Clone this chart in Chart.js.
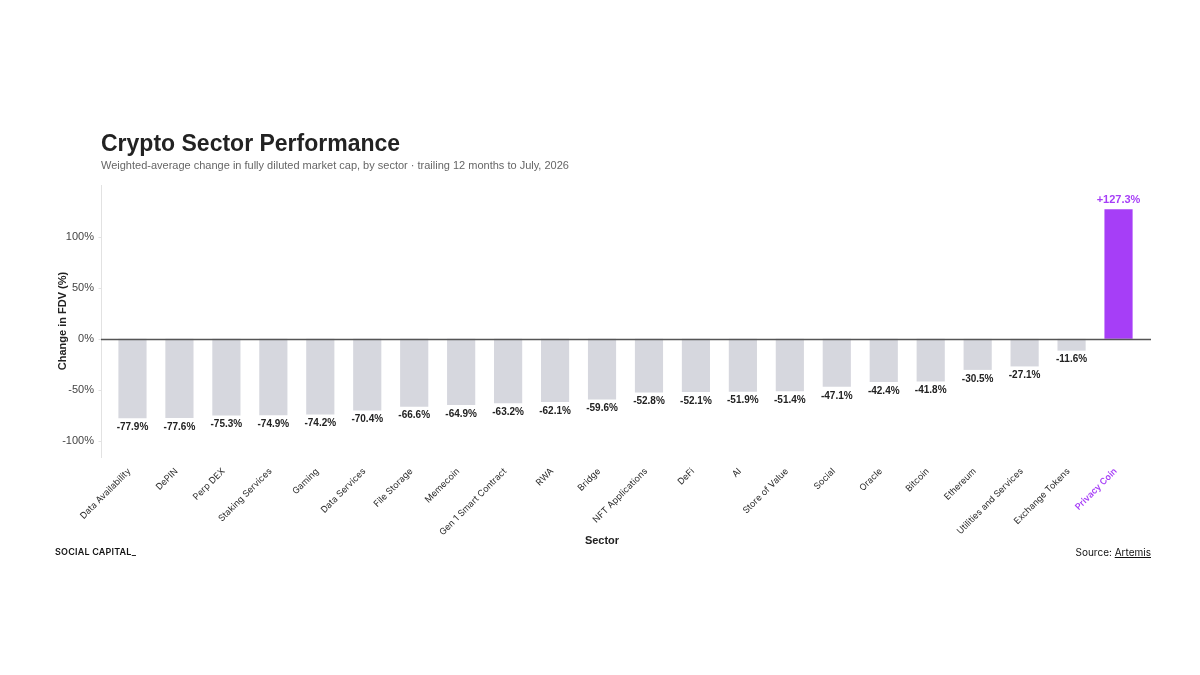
<!DOCTYPE html>
<html>
<head>
<meta charset="utf-8">
<script src="https://cdn.jsdelivr.net/npm/chart.js@4.4.1/dist/chart.umd.min.js"></script>
<style>
  html, body { margin: 0; padding: 0; background: #ffffff; }
  #wrap { position: relative; width: 1200px; height: 675px; overflow: hidden; }
  #chart { position: absolute; left: 0; top: 0; }
  .title { position: absolute; left: 101px; top: 132px; font: bold 23px 'Liberation Sans', Arial, sans-serif; line-height: 23px; color: #222; }
  .subtitle { position: absolute; left: 101px; top: 159px; font: 11px 'Liberation Sans', Arial, sans-serif; line-height: 13px; color: #666; }
  .xtitle { position: absolute; left: 552px; width: 100px; top: 534px; text-align: center; font: bold 11px 'Liberation Sans', Arial, sans-serif; line-height: 13px; color: #222; }
  .brand { position: absolute; left: 55px; top: 546px; font: 600 9px Inter, sans-serif; letter-spacing: 0.2px; color: #111; }
  .source { position: absolute; right: 49px; top: 546px; font: 10px Inter, sans-serif; color: #111; }
  .source span { text-decoration: underline; }
</style>
</head>
<body>
<div id="wrap">
  <canvas id="chart" width="1200" height="675"></canvas>
  <div class="title">Crypto Sector Performance</div>
  <div class="subtitle">Weighted-average change in fully diluted market cap, by sector · trailing 12 months to July, 2026</div>
  <div class="xtitle">Sector</div>
  <div class="brand">SOCIAL CAPITAL_</div>
  <div class="source">Source: <span>Artemis</span></div>
</div>
<script>
// ------------------------------------------------------------
// Data
// ------------------------------------------------------------
var sectors = [
  'Data Availability', 'DePIN', 'Perp DEX', 'Staking Services', 'Gaming',
  'Data Services', 'File Storage', 'Memecoin', 'Gen 1 Smart Contract', 'RWA',
  'Bridge', 'NFT Applications', 'DeFi', 'AI', 'Store of Value', 'Social',
  'Oracle', 'Bitcoin', 'Ethereum', 'Utilities and Services', 'Exchange Tokens',
  'Privacy Coin'
];
var changes = [
  -77.9, -77.6, -75.3, -74.9, -74.2, -70.4, -66.6, -64.9, -63.2, -62.1,
  -59.6, -52.8, -52.1, -51.9, -51.4, -47.1, -42.4, -41.8, -30.5, -27.1,
  -11.6, 127.3
];
var yTicks = [-100, -50, 0, 50, 100];

var COLORS = {
  text: '#222222',
  tick: '#444444',
  grayBar: '#d6d7de',
  highlight: '#a63ef7',
  zeroLine: '#555555',
  axisLine: '#e2e2e2'
};

var lastIdx = sectors.length - 1;

// Axis lines and the bar value labels
var decorPlugin = {
  id: 'decor',
  afterDatasetsDraw: function(chart) {
    var ctx = chart.ctx;
    var area = chart.chartArea;
    var y = chart.scales.y;
    var zeroY = Math.round(y.getPixelForValue(0)) + 0.5;
    var axisX = area.left - 8 + 0.5;

    ctx.save();
    // y axis line + small tick marks
    ctx.strokeStyle = COLORS.axisLine;
    ctx.lineWidth = 1;
    ctx.beginPath();
    ctx.moveTo(axisX, area.top);
    ctx.lineTo(axisX, area.bottom + 1);
    yTicks.forEach(function(v) {
      var ty = Math.round(y.getPixelForValue(v)) + 0.5;
      ctx.moveTo(axisX - 3, ty);
      ctx.lineTo(axisX, ty);
    });
    ctx.stroke();

    // zero line
    ctx.strokeStyle = COLORS.zeroLine;
    ctx.lineWidth = 1.5;
    ctx.beginPath();
    ctx.moveTo(area.left - 8, zeroY);
    ctx.lineTo(area.right + 9, zeroY);
    ctx.stroke();

    // value labels
    var meta = chart.getDatasetMeta(0);
    ctx.textAlign = 'center';
    meta.data.forEach(function(bar, i) {
      var v = changes[i];
      if (v >= 0) {
        ctx.fillStyle = COLORS.highlight;
        ctx.font = "bold 11px 'Liberation Sans', Arial, sans-serif";
        ctx.textBaseline = 'bottom';
        ctx.fillText('+' + v.toFixed(1) + '%', bar.x, bar.y - 4);
      } else {
        ctx.fillStyle = COLORS.text;
        ctx.font = "bold 10px 'Liberation Sans', Arial, sans-serif";
        ctx.textBaseline = 'top';
        ctx.fillText(v.toFixed(1) + '%', bar.x, bar.y + 4);
      }
    });
    ctx.restore();
  }
};

var ctx = document.getElementById('chart').getContext('2d');
new Chart(ctx, {
  type: 'bar',
  data: {
    labels: sectors,
    datasets: [{
      data: changes,
      backgroundColor: changes.map(function(v, i) { return i === lastIdx ? COLORS.highlight : COLORS.grayBar; }),
      borderWidth: 0,
      categoryPercentage: 1,
      barPercentage: 0.6
    }]
  },
  options: {
    responsive: false,
    animation: false,
    layout: { padding: { top: 185, left: 56, right: 58, bottom: 127 } },
    plugins: {
      legend: { display: false },
      tooltip: { enabled: false }
    },
    scales: {
      y: {
        min: -116,
        max: 151,
        afterFit: function(scale) { scale.width = 53; },
        afterBuildTicks: function(scale) {
          scale.ticks = yTicks.map(function(v) { return { value: v }; });
        },
        grid: { display: false, drawTicks: false },
        border: { display: false },
        ticks: {
          padding: 15,
          color: COLORS.tick,
          font: { family: "'Liberation Sans', Arial, sans-serif", size: 11 },
          callback: function(v) { return v + '%'; }
        },
        title: {
          display: true,
          text: 'Change in FDV (%)',
          color: COLORS.text,
          padding: { top: 0, bottom: 0 },
          font: { family: "'Liberation Sans', Arial, sans-serif", size: 11, weight: 'bold' }
        }
      },
      x: {
        afterFit: function(scale) { scale.height = 91; },
        grid: { display: false, drawTicks: false },
        border: { display: false },
        ticks: {
          autoSkip: false,
          maxRotation: 45,
          minRotation: 45,
          padding: 9,
          labelOffset: -3,
          color: function(c) { return c.index === lastIdx ? COLORS.highlight : '#2a2a2a'; },
          font: function(c) {
            return { family: 'Inter, sans-serif', size: 9, weight: c.index === lastIdx ? '600' : 'normal' };
          }
        }
      }
    }
  },
  plugins: [decorPlugin]
});
</script>
</body>
</html>
